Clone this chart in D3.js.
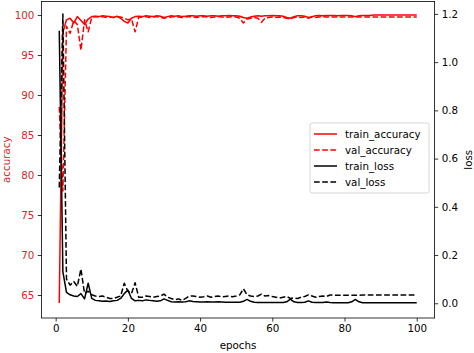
<!DOCTYPE html>
<html><head><meta charset="utf-8">
<script src="https://cdn.jsdelivr.net/npm/d3@7"></script>
<style>body{margin:0;background:#fff}svg{display:block;font-family:"DejaVu Sans",sans-serif}</style>
</head><body>
<script>
const epochs = d3.range(1, 101);
const trainAcc = [64.0,97.8,99.4,99.6,99.0,99.8,99.3,98.8,99.5,99.8,
 99.85,99.8,99.9,99.85,99.8,99.7,99.85,99.6,99.2,99.0,
 99.6,99.8,99.85,99.8,99.9,99.85,99.8,99.9,99.85,99.7,
 99.8,99.9,99.85,99.9,99.8,99.85,99.9,99.9,99.85,99.9,
 99.9,99.85,99.9,99.9,99.85,99.9,99.9,99.95,99.9,99.9,
 99.85,99.7,99.6,99.75,99.85,99.9,99.85,99.9,99.9,99.95,
 99.9,99.9,99.85,99.7,99.6,99.8,99.9,99.9,99.85,99.7,
 99.8,99.9,99.95,99.9,99.95,99.95,99.95,99.9,99.95,99.95,
 99.95,99.9,99.8,99.9,99.95,99.95,99.95,100,100,100,
 100,100,100,100,100,100,100,100,100,100];
const valAcc = [88.5,78.0,98.6,97.7,99.3,98.8,95.6,99.4,97.9,99.7,
 99.8,99.75,99.8,99.7,99.75,99.7,99.8,99.75,99.6,99.4,
 99.5,97.9,99.7,99.75,99.8,99.7,99.75,99.8,99.7,99.6,
 99.7,99.75,99.8,99.75,99.7,99.75,99.8,99.75,99.7,99.75,
 99.8,99.75,99.7,99.75,99.8,99.75,99.7,99.75,99.8,99.75,
 99.6,99.0,99.5,99.6,99.7,99.6,99.1,99.6,99.7,99.75,
 99.7,99.75,99.7,99.6,99.5,99.7,99.75,99.7,99.75,99.6,
 99.75,99.7,99.75,99.8,99.75,99.75,99.75,99.75,99.75,99.75,
 99.75,99.75,99.75,99.75,99.75,99.75,99.75,99.75,99.75,99.75,
 99.75,99.75,99.75,99.75,99.75,99.75,99.75,99.75,99.75,99.75];
const trainLoss = [1.13,0.13,0.045,0.035,0.03,0.028,0.04,0.018,0.083,0.02,
 0.012,0.01,0.008,0.009,0.007,0.01,0.012,0.02,0.04,0.055,
 0.02,0.01,0.012,0.01,0.014,0.012,0.01,0.008,0.01,0.018,
 0.012,0.006,0.005,0.006,0.005,0.006,0.01,0.007,0.006,0.005,
 0.005,0.006,0.005,0.005,0.006,0.005,0.004,0.004,0.004,0.004,
 0.004,0.008,0.016,0.008,0.004,0.003,0.003,0.003,0.003,0.003,
 0.003,0.003,0.003,0.006,0.017,0.006,0.003,0.003,0.004,0.01,
 0.004,0.003,0.003,0.003,0.005,0.003,0.002,0.002,0.002,0.002,
 0.002,0.006,0.016,0.006,0.002,0.002,0.002,0.002,0.002,0.002,
 0.002,0.002,0.002,0.002,0.002,0.002,0.002,0.002,0.002,0.002];
const valLoss = [0.48,1.2,0.10,0.075,0.09,0.07,0.142,0.04,0.05,0.035,
 0.03,0.028,0.03,0.025,0.02,0.02,0.025,0.03,0.083,0.05,
 0.04,0.085,0.025,0.025,0.03,0.028,0.025,0.028,0.03,0.038,
 0.025,0.02,0.015,0.018,0.012,0.02,0.03,0.03,0.028,0.025,
 0.027,0.03,0.025,0.028,0.03,0.026,0.028,0.03,0.027,0.03,
 0.035,0.06,0.035,0.03,0.028,0.03,0.038,0.03,0.032,0.028,
 0.025,0.022,0.025,0.028,0.02,0.022,0.02,0.025,0.028,0.035,
 0.03,0.025,0.028,0.03,0.028,0.034,0.034,0.033,0.033,0.033,
 0.033,0.033,0.033,0.033,0.034,0.034,0.034,0.034,0.034,0.034,
 0.034,0.034,0.034,0.034,0.034,0.034,0.034,0.034,0.034,0.034];
const xTicks = [0,20,40,60,80,100];
const accTicks = [65,70,75,80,85,90,95,100];
const lossTicks = [0.0,0.2,0.4,0.6,0.8,1.0,1.2];
const seriesNames = ["train_accuracy","val_accuracy","train_loss","val_loss"];

const W = 474, H = 353;
const L = 41.4, R = 434.6, T = 1.5, B = 318;
const svg = d3.select("body").append("svg").attr("width", W).attr("height", H);
const x = d3.scaleLinear().domain([-3.95, 104.95]).range([L, R]);
const yA = d3.scaleLinear().domain([62.125, 101.69]).range([B, T]);
const yL = d3.scaleLinear().domain([-0.0611, 1.2514]).range([B, T]);
const accColor = "#d62728";
const fs = "10.3px";
const dash = "5.7,2.5";

function draw(data, y, color, dashed) {
  svg.append("path").datum(data)
    .attr("fill", "none").attr("stroke", color).attr("stroke-width", 1.5)
    .attr("stroke-dasharray", dashed ? dash : null)
    .attr("stroke-linejoin", "round")
    .attr("d", d3.line().x((d, i) => x(epochs[i])).y(d => y(d)));
}
draw(trainAcc, yA, "#ff0000", false);
draw(valAcc, yA, "#ff0000", true);
draw(trainLoss, yL, "#000", false);
draw(valLoss, yL, "#000", true);

// axes
const gx = svg.append("g").attr("transform", `translate(0,${B})`)
  .call(d3.axisBottom(x).tickValues(xTicks).tickSize(3.6).tickPadding(3.5).tickFormat(d3.format("d")));
const gy = svg.append("g").attr("transform", `translate(${L},0)`)
  .call(d3.axisLeft(yA).tickValues(accTicks).tickSize(3.6).tickPadding(3.5).tickFormat(d3.format("d")));
const gr = svg.append("g").attr("transform", `translate(${R},0)`)
  .call(d3.axisRight(yL).tickValues(lossTicks).tickSize(3.6).tickPadding(3.5).tickFormat(d3.format(".1f")));
[gx, gy, gr].forEach(g => {
  g.select(".domain").remove();
  g.selectAll("text").attr("font-size", fs).attr("font-family", "DejaVu Sans");
  g.selectAll("line").attr("stroke-width", 0.8);
});
gy.selectAll("text").attr("fill", accColor);
gy.selectAll("line").attr("stroke", "#000");
// spines
svg.append("rect").attr("x", L).attr("y", T).attr("width", R - L).attr("height", B - T)
  .attr("fill", "none").attr("stroke", "#000").attr("stroke-width", 0.8);

// labels
svg.append("text").attr("transform", `translate(10,${(T + B) / 2}) rotate(-90)`)
  .attr("text-anchor", "middle").attr("font-size", fs).attr("fill", accColor).text("accuracy");
svg.append("text").attr("transform", `translate(471.5,${(T + B) / 2}) rotate(-90)`)
  .attr("text-anchor", "middle").attr("font-size", fs).attr("fill", "#000").text("loss");
svg.append("text").attr("x", (L + R) / 2).attr("y", 349)
  .attr("text-anchor", "middle").attr("font-size", fs).attr("fill", "#000").text("epochs");

// legend
const lg = svg.append("g");
lg.append("rect").attr("x", 310).attr("y", 123).attr("width", 119).attr("height", 70).attr("rx", 2)
  .attr("fill", "#fff").attr("fill-opacity", 0.8).attr("stroke", "#cccccc").attr("stroke-width", 0.8);
const styles = [["#ff0000", false], ["#ff0000", true], ["#000", false], ["#000", true]];
seriesNames.forEach((n, i) => {
  const yy = 134 + i * 16;
  lg.append("line").attr("x1", 314).attr("x2", 337).attr("y1", yy).attr("y2", yy)
    .attr("stroke", styles[i][0]).attr("stroke-width", 1.5)
    .attr("stroke-dasharray", styles[i][1] ? dash : null);
  lg.append("text").attr("x", 345).attr("y", yy + 3.7).attr("font-size", fs).attr("fill", "#000").text(n);
});
</script>
</body></html>
